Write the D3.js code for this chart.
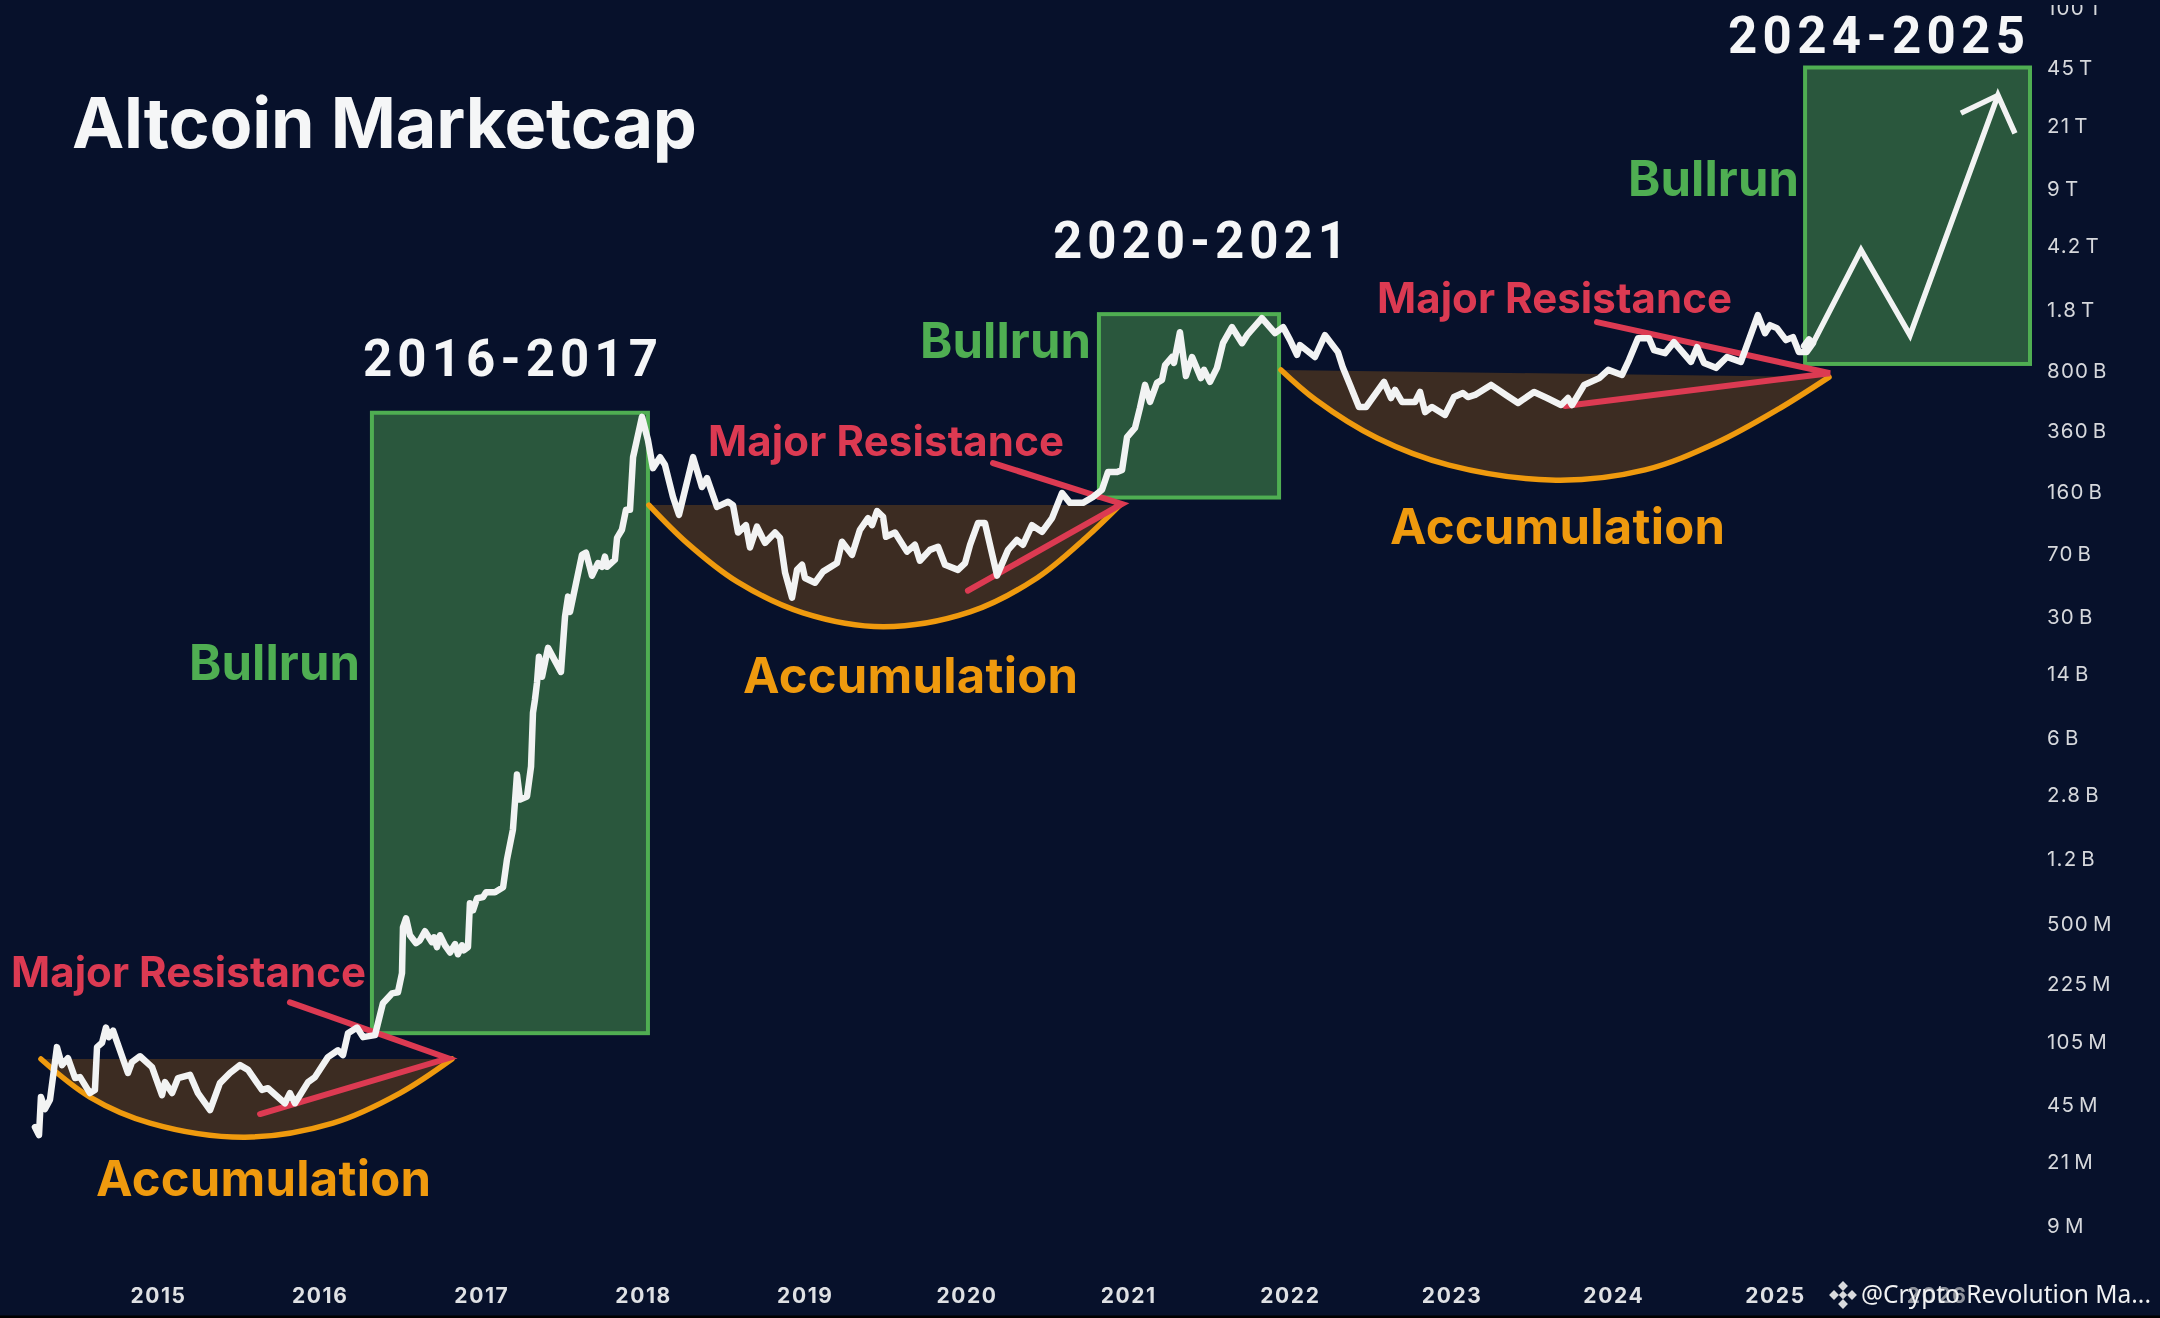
<!DOCTYPE html>
<html><head><meta charset="utf-8">
<script src="https://cdn.jsdelivr.net/npm/d3@7/dist/d3.min.js"></script>
<style>
html,body{margin:0;padding:0;background:#07112b;}
svg{display:block;filter:blur(0.6px);}
text{font-family:Inter,"Noto Sans",sans-serif;}
</style></head><body>
<svg id="chart" width="2160" height="1318"></svg>
<script>
// Altcoin market cap, USD billions, against decimal years
const lineYears = [2014.239,2014.264,2014.276,2014.301,2014.332,2014.375,2014.406,2014.443,2014.487,2014.518,2014.579,2014.610,2014.623,2014.654,2014.678,2014.697,2014.722,2014.814,2014.839,2014.889,2014.963,
2015.025,2015.043,2015.087,2015.124,2015.198,2015.247,2015.322,2015.383,2015.445,2015.507,2015.557,2015.643,2015.680,2015.785,2015.816,2015.847,2015.928,2015.971,
2016.051,2016.113,2016.144,2016.175,2016.231,2016.268,2016.342,2016.391,2016.447,2016.484,2016.509,2016.515,2016.534,2016.558,2016.596,2016.620,2016.651,2016.694,2016.707,2016.725,2016.744,2016.775,2016.806,2016.837,2016.855,2016.880,2016.892,2016.917,2016.929,2016.948,2016.973,
2017.010,2017.028,2017.084,2017.134,2017.158,2017.195,2017.220,2017.239,2017.282,2017.307,2017.319,2017.331,2017.344,2017.356,2017.375,2017.412,2017.492,2017.517,2017.536,2017.548,2017.622,2017.647,2017.684,2017.721,2017.746,2017.764,2017.777,2017.826,2017.839,2017.869,2017.894,2017.919,2017.938,2017.993,
2018.030,2018.061,2018.105,2018.135,2018.185,2018.222,2018.309,2018.364,2018.395,2018.457,2018.525,2018.556,2018.587,2018.636,2018.661,2018.704,2018.754,2018.816,2018.847,2018.878,2018.921,2018.952,2018.983,
2019.001,2019.063,2019.113,2019.199,2019.230,2019.292,2019.341,2019.391,2019.416,2019.447,2019.484,2019.502,2019.558,2019.632,2019.681,2019.712,2019.774,2019.824,2019.867,2019.947,2019.991,
2020.022,2020.071,2020.114,2020.189,2020.257,2020.312,2020.349,2020.405,2020.467,2020.529,2020.591,2020.640,2020.720,2020.782,2020.838,2020.875,2020.931,2020.962,2020.993,
2021.042,2021.073,2021.104,2021.135,2021.178,2021.209,2021.228,2021.271,2021.283,2021.320,2021.357,2021.395,2021.450,2021.469,2021.506,2021.549,2021.586,2021.642,2021.704,2021.735,2021.827,2021.908,2021.958,
2022.001,2022.044,2022.062,2022.155,2022.217,2022.297,2022.328,2022.372,2022.427,2022.471,2022.582,2022.625,2022.650,2022.693,2022.774,2022.805,2022.836,2022.879,2022.959,
2023.015,2023.070,2023.101,2023.145,2023.244,2023.336,2023.411,2023.510,2023.590,2023.677,2023.720,2023.745,2023.820,2023.913,2023.969,
2024.054,2024.097,2024.153,2024.221,2024.252,2024.320,2024.375,2024.480,2024.518,2024.561,2024.635,2024.703,2024.789,2024.894,2024.938,2024.969,
2025.012,2025.068,2025.111,2025.148,2025.195,2025.235,2025.210,2025.180];
const lineCaps = [.0332,.0298,.0495,.0422,.0478,.0963,.0758,.0832,.0638,.0646,.0522,.0544,.0963,.102,.125,.11,.12,.0682,.0789,.0853,.0738,
.0508,.0604,.0522,.0638,.0666,.0522,.0416,.0596,.0682,.0758,.0711,.0544,.0557,.0456,.0522,.0456,.0604,.0646,
.0843,.0924,.0866,.116,.125,.11,.113,.173,.197,.2,.258,.476,.536,.428,.385,.4,.451,.39,.416,.365,.428,.374,.34,.38,.332,.374,.35,.365,.656,.596,.7,
.711,.758,.758,.81,1.17,1.75,3.64,2.61,2.72,4.05,8.3,9.84,12.4,17.5,13.4,19.7,14.3,29.8,39,31.8,68,70,51.5,61,58,66.5,58,63.8,85.3,95,124,124,250,428,
314,216,250,226,147,116,250,168,189,129,138,132,91.6,101,75,99,79.8,91.6,85.3,53.6,38.5,55.7,59.6,
50,46.9,54.4,61,81,68,95,111,101,122,113,86.6,91.6,71,77.8,62.9,72.7,75.8,59.6,55.7,61,
77.8,104,104,51.6,72.7,83,77.8,101,92.4,111,155,136,136,147,162,205,205,211,327,
369,483,655,522,673,700,853,950,878,1322,738,950,717,800,682,822,1142,1414,1142,1271,1594,1305,1414,
1190,978,1114,950,1271,1014,822,655,488,488,682,550,613,522,522,596,456,488,439,
557,588,557,573,655,573,515,596,550,501,550,501,655,717,800,
748,912,1221,1221,1041,1000,1158,890,1083,878,822,950,890,1660,1305,1452,
1396,1190,1238,1014,1014,1142,1200,1100];

const forecastYears = [2025.235,2025.532,2025.835,2026.379,2026.484];
const forecastCaps = [1142,3950,1271,31030,18700];
const arrowBarbYears = [2026.150,2026.379];
const arrowBarbCaps = [24500,31030];

const yearTicks = [2015,2016,2017,2018,2019,2020,2021,2022,2023,2024,2025,2026];
const capTicks = [100000,45000,21000,9000,4200,1800,800,360,160,70,30,14,6,2.8,1.2,.5,.225,.105,.045,.021,.009];
const capTickLabels = ["100 T","45 T","21 T","9 T","4.2 T","1.8 T","800 B","360 B","160 B","70 B","30 B","14 B","6 B","2.8 B","1.2 B","500 M","225 M","105 M","45 M","21 M","9 M"];

// Bullrun windows: start year, end year, high cap, low cap
const bullStarts = [2016.323,2020.819,2025.186];
const bullEnds = [2018.030,2021.933,2026.577];
const bullHighs = [452,1682,45000];
const bullLows = [.116,146,866];

// Accumulation bowls
const cupYears = [
 [2014.276,2014.579,2014.951,2015.538,2016.082,2016.497,2016.818],
 [2018.036,2018.271,2018.581,2018.989,2019.486,2020.022,2020.436,2020.745,2020.949],
 [2021.945,2022.161,2022.539,2022.984,2023.646,2024.196,2024.635,2025.012,2025.334]];
const cupCaps = [
 [.0822,.0495,.035,.029,.035,.0522,.0822],
 [132,79.8,47.6,31.4,26.1,31.8,50,86.6,132],
 [800,536,323,225,184,211,302,469,727]];

// Resistance wedges: upper start, tip, lower start
const wedgeYears = [[2015.816,2016.793,2015.631],[2020.164,2020.961,2020.009],[2023.899,2025.340,2023.701]];
const wedgeCaps = [[.175,.083,.0395],[231,134,42.2],[1512,766,495]];

const x = d3.scaleLinear().domain([2015,2026]).range([158,1936.7]);
const y = d3.scaleLog().domain([.009,45000]).range([1225,67.5]);
const svg = d3.select("#chart");

svg.append("rect").attr("width",2160).attr("height",1318).attr("fill","#07112b");
svg.append("rect").attr("y",1315.5).attr("width",2160).attr("height",3).attr("fill","#000");

const xy = (ys,vs)=>ys.map((t,i)=>[x(t),y(vs[i])]);
const lin = d3.line();
const cup = d3.line().curve(d3.curveCatmullRom.alpha(.5));

// bowls
cupYears.forEach((ys,i)=>{
  const pts = xy(ys,cupCaps[i]);
  svg.append("path").attr("d",cup(pts)+"Z").attr("fill","#3c2c22");
});
// boxes
bullStarts.forEach((s,i)=>{
  svg.append("rect")
    .attr("x",x(s)).attr("y",y(bullHighs[i]))
    .attr("width",x(bullEnds[i])-x(s)).attr("height",y(bullLows[i])-y(bullHighs[i]))
    .attr("fill","#2a573d").attr("stroke","#4fae52").attr("stroke-width",4);
});
cupYears.forEach((ys,i)=>{
  svg.append("path").attr("d",cup(xy(ys,cupCaps[i]))).attr("fill","none")
    .attr("stroke","#ef9a0e").attr("stroke-width",5.5).attr("stroke-linecap","round");
});
// wedges
wedgeYears.forEach((ys,i)=>{
  svg.append("path").attr("d",lin(xy(ys,wedgeCaps[i]))).attr("fill","none")
    .attr("stroke","#dc3a52").attr("stroke-width",6).attr("stroke-linecap","round").attr("stroke-linejoin","miter");
});
// price line
svg.append("path").attr("d",lin(xy(lineYears,lineCaps))).attr("fill","none")
  .attr("stroke","#f2f3f3").attr("stroke-width",6.5).attr("stroke-linejoin","round").attr("stroke-linecap","round");
[[forecastYears,forecastCaps],[arrowBarbYears,arrowBarbCaps]].forEach(([a,b])=>{
  svg.append("path").attr("d",lin(xy(a,b))).attr("fill","none")
    .attr("stroke","#f2f3f3").attr("stroke-width",5.5).attr("stroke-linejoin","miter").attr("stroke-linecap","butt");
});

// axes
const clip = svg.append("clipPath").attr("id","axisClip");
clip.append("rect").attr("x",2030).attr("y",5).attr("width",130).attr("height",1310);
const yAxis = d3.axisRight(y).tickValues(capTicks).tickSize(0).tickPadding(0)
  .tickFormat((d,i)=>capTickLabels[i]);
const gy = svg.append("g").attr("clip-path","url(#axisClip)").append("g").attr("transform","translate(2047,0)").call(yAxis);
gy.select(".domain").remove();
gy.selectAll("text").attr("fill","#d6d8dc").style("font-family","Inter").style("font-size","20.5px")
  .style("letter-spacing","1.2px").style("word-spacing","-3px").attr("dy","0.36em");

const xAxis = d3.axisBottom(x).tickValues(yearTicks).tickSize(0).tickPadding(0).tickFormat(d3.format("d"));
const gx = svg.append("g").attr("transform","translate(0,1287)").call(xAxis);
gx.select(".domain").remove();
gx.selectAll("text").attr("fill","#dfe1e4").style("font-family","Inter").style("font-weight",700)
  .style("font-size","21px").style("letter-spacing","1.6px").attr("dy","0").attr("y",16);
gx.selectAll("g.tick").filter(d=>d===2026).select("text").attr("fill","#8f939c");

// annotation text
const green="#4fae52", red="#dc3a52", orange="#ef9a0e", white="#f5f6f7";
const labels = [
 ["Altcoin Marketcap",72,148,625,70,700,white,"Inter"],
 ["2016-2017",363,376,295,51,700,white,"Roboto"],
 ["2020-2021",1053,258,294,51,700,white,"Roboto"],
 ["2024-2025",1728,53,297,51,700,white,"Roboto"],
 ["Bullrun",189,680,171,49,700,green,"Inter"],
 ["Bullrun",920,358,171,49,700,green,"Inter"],
 ["Bullrun",1628,196,171,49,700,green,"Inter"],
 ["Major Resistance",11,987,355,42,700,red,"Inter"],
 ["Major Resistance",708,456,356,42,700,red,"Inter"],
 ["Major Resistance",1377,313,355,42,700,red,"Inter"],
 ["Accumulation",96,1196,335,49,700,orange,"Inter"],
 ["Accumulation",743,693,335,49,700,orange,"Inter"],
 ["Accumulation",1390,544,335,49,700,orange,"Inter"]
];
svg.selectAll("text.label").data(labels).join("text").attr("class","label")
  .text(d=>d[0]).attr("x",d=>d[1]).attr("y",d=>d[2]).attr("textLength",d=>d[3]).attr("lengthAdjust","spacing")
  .style("font-family",d=>d[7]).style("font-size",d=>d[4]+"px").style("font-weight",d=>d[5]).attr("fill",d=>d[6]);

// watermark
const wm = svg.append("g").attr("fill","#d9dadd").attr("transform","translate(1843,1295)");
[[0,-9],[-9,0],[9,0],[0,9]].forEach(([dx,dy])=>{
  wm.append("rect").attr("x",dx-3.5).attr("y",dy-3.5).attr("width",7).attr("height",7).attr("transform",`rotate(45 ${dx} ${dy})`);
});
wm.append("rect").attr("x",-3).attr("y",-3).attr("width",6).attr("height",6).attr("transform","rotate(45)");
svg.append("text").text("@Crypto Revolution Ma...").attr("x",1861).attr("y",1303)
  .attr("textLength",290).attr("lengthAdjust","spacingAndGlyphs")
  .style("font-family","Noto Sans").style("font-size","26px").attr("fill","#f0f1f2");
</script>
</body></html>
